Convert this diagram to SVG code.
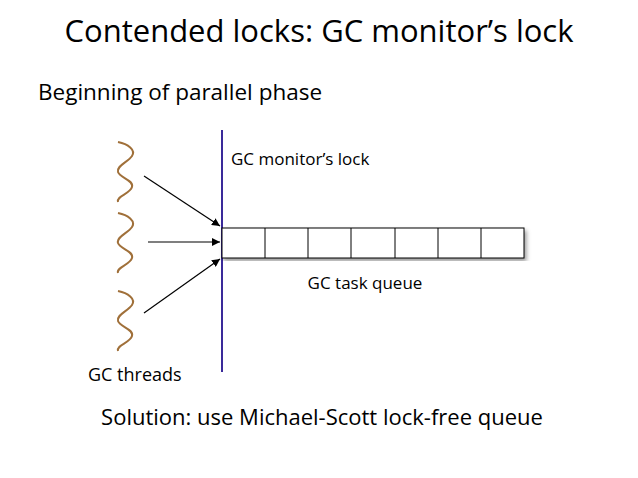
<svg xmlns="http://www.w3.org/2000/svg" width="638" height="478" viewBox="0 0 638 478">
<defs>
<style>
text{font-family:"Open Sans","Liberation Sans",sans-serif;fill:#000}
.w{fill:none;stroke:#a0703a;stroke-width:2}
.c{fill:#fff;stroke:#000;stroke-width:1}
.a{stroke:#000;stroke-width:1.2;marker-end:url(#ah)}
</style>
<marker id="ah" viewBox="0 0 10 10" refX="10" refY="5" markerWidth="8" markerHeight="8" orient="auto" markerUnits="userSpaceOnUse"><path d="M0,0L10,5L0,10z" fill="#000"/></marker>
<filter id="sh"><feDropShadow dx="2" dy="3" stdDeviation="2" flood-opacity="0.4"/></filter>
</defs>
<text x="319" y="42" font-size="31" text-anchor="middle">Contended locks: GC monitor’s lock</text>
<text x="38" y="100" font-size="22.5">Beginning of parallel phase</text>
<g id="threads">
<path class="w" d="M118,142 C128,144 136,150 132,156 C128,162 116,166 118,172 C120,178 134,180 132,187 C130,194 116,196 118,202"/>
<path class="w" d="M118,213 C128,215 136,221 132,227 C128,233 116,237 118,243 C120,249 134,251 132,258 C130,265 116,267 118,273"/>
<path class="w" d="M118,291 C128,293 136,299 132,305 C128,311 116,315 118,321 C120,327 134,329 132,336 C130,343 116,345 118,351"/>
<text x="88" y="381" font-size="18">GC threads</text>
</g>
<g id="lock">
<line x1="222" y1="130" x2="222" y2="372" stroke="#3a2a9a" stroke-width="2"/>
<text x="231" y="165" font-size="17">GC monitor’s lock</text>
</g>
<g id="queue">
<g filter="url(#sh)"><rect class="c" x="222" y="228" width="302" height="30"/></g>
<path d="M265,228V258M308,228V258M351,228V258M395,228V258M438,228V258M481,228V258" stroke="#000"/>
<text x="365" y="289" font-size="17" text-anchor="middle">GC task queue</text>
</g>
<g id="connectors">
<line class="a" x1="144" y1="176" x2="220" y2="226"/>
<line class="a" x1="148" y1="242" x2="220" y2="242"/>
<line class="a" x1="144" y1="313" x2="220" y2="259"/>
</g>
<text x="322" y="425" font-size="22" text-anchor="middle">Solution: use Michael-Scott lock-free queue</text>
</svg>
